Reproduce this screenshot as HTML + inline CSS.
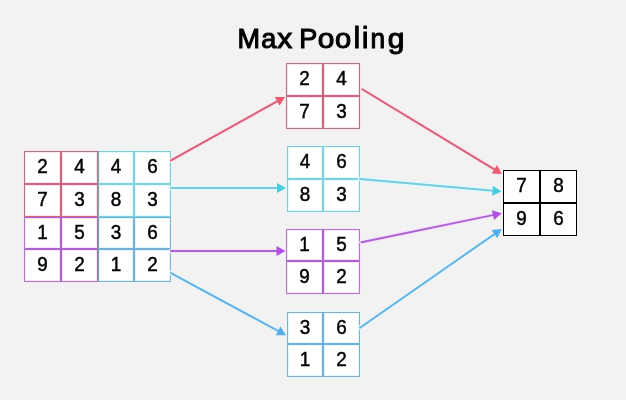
<!DOCTYPE html>
<html><head><meta charset="utf-8"><style>
html,body{margin:0;padding:0;background:#f2f2f2;width:626px;height:400px;overflow:hidden}
svg{display:block;will-change:transform}
.d{font-family:"Liberation Sans", sans-serif;font-size:21px;fill:#000;stroke:#000;stroke-width:0.5px}
.t{font-family:"Liberation Sans", sans-serif;font-size:28.5px;fill:#000;stroke:#000;stroke-width:1.1px}
</style></head><body>
<svg width="626" height="400" viewBox="0 0 626 400">
<rect width="626" height="400" fill="#f2f2f2"/>
<text transform="translate(248.90,48.1) scale(0.950,1.0) translate(-12.00,0)" class="t">M</text>
<text transform="translate(269.20,48.1) scale(0.950,1.0) translate(-8.50,0)" class="t">a</text>
<text transform="translate(284.60,48.1) scale(1.050,1.0) translate(-7.00,0)" class="t">x</text>
<text transform="translate(308.75,48.1) scale(0.950,1.0) translate(-10.00,0)" class="t">P</text>
<text transform="translate(326.20,48.1) scale(1.050,1.0) translate(-8.00,0)" class="t">o</text>
<text transform="translate(343.15,48.1) scale(1.021,1.0) translate(-8.00,0)" class="t">o</text>
<text transform="translate(356.85,48.1) scale(1.000,1.06) translate(-3.00,0)" class="t">l</text>
<text transform="translate(365.10,48.1) scale(1.000,1.06) translate(-3.00,0)" class="t">i</text>
<text transform="translate(377.85,48.1) scale(0.921,1.0) translate(-8.00,0)" class="t">n</text>
<text transform="translate(396.05,48.1) scale(1.050,1.0) translate(-8.00,0)" class="t">g</text>
<g shape-rendering="crispEdges">
<rect x="24" y="151" width="147" height="131" fill="#fff"/>
<rect x="24" y="150" width="37" height="1" fill="#ffe4ea"/>
<rect x="25" y="152" width="35" height="1" fill="#ffe4ea"/>
<rect x="23" y="151" width="1" height="33" fill="#ffe4ea"/>
<rect x="25" y="152" width="1" height="31" fill="#ffe4ea"/>
<rect x="59" y="152" width="1" height="31" fill="#ffe4ea"/>
<rect x="25" y="182" width="35" height="1" fill="#ffe4ea"/>
<rect x="23" y="184" width="1" height="33" fill="#ffe4ea"/>
<rect x="25" y="185" width="1" height="31" fill="#ffe4ea"/>
<rect x="59" y="185" width="1" height="31" fill="#ffe4ea"/>
<rect x="25" y="185" width="35" height="1" fill="#ffe4ea"/>
<rect x="25" y="215" width="35" height="1" fill="#ffe4ea"/>
<rect x="23" y="217" width="1" height="32" fill="#fbe2ff"/>
<rect x="25" y="218" width="1" height="30" fill="#fbe2ff"/>
<rect x="59" y="218" width="1" height="30" fill="#fbe2ff"/>
<rect x="25" y="218" width="35" height="1" fill="#fbe2ff"/>
<rect x="25" y="247" width="35" height="1" fill="#fbe2ff"/>
<rect x="24" y="282" width="37" height="1" fill="#fbe2ff"/>
<rect x="25" y="280" width="35" height="1" fill="#fbe2ff"/>
<rect x="23" y="249" width="1" height="33" fill="#fbe2ff"/>
<rect x="25" y="250" width="1" height="31" fill="#fbe2ff"/>
<rect x="59" y="250" width="1" height="31" fill="#fbe2ff"/>
<rect x="25" y="250" width="35" height="1" fill="#fbe2ff"/>
<rect x="61" y="150" width="37" height="1" fill="#ffe4ea"/>
<rect x="62" y="152" width="35" height="1" fill="#ffe4ea"/>
<rect x="62" y="152" width="1" height="31" fill="#ffe4ea"/>
<rect x="96" y="152" width="1" height="31" fill="#ffe4ea"/>
<rect x="62" y="182" width="35" height="1" fill="#ffe4ea"/>
<rect x="62" y="185" width="1" height="31" fill="#ffe4ea"/>
<rect x="96" y="185" width="1" height="31" fill="#ffe4ea"/>
<rect x="62" y="185" width="35" height="1" fill="#ffe4ea"/>
<rect x="62" y="215" width="35" height="1" fill="#ffe4ea"/>
<rect x="62" y="218" width="1" height="30" fill="#fbe2ff"/>
<rect x="96" y="218" width="1" height="30" fill="#fbe2ff"/>
<rect x="62" y="218" width="35" height="1" fill="#fbe2ff"/>
<rect x="62" y="247" width="35" height="1" fill="#fbe2ff"/>
<rect x="61" y="282" width="37" height="1" fill="#fbe2ff"/>
<rect x="62" y="280" width="35" height="1" fill="#fbe2ff"/>
<rect x="62" y="250" width="1" height="31" fill="#fbe2ff"/>
<rect x="96" y="250" width="1" height="31" fill="#fbe2ff"/>
<rect x="62" y="250" width="35" height="1" fill="#fbe2ff"/>
<rect x="98" y="150" width="36" height="1" fill="#dcfcff"/>
<rect x="99" y="152" width="34" height="1" fill="#dcfcff"/>
<rect x="99" y="152" width="1" height="31" fill="#dcfcff"/>
<rect x="132" y="152" width="1" height="31" fill="#dcfcff"/>
<rect x="99" y="182" width="34" height="1" fill="#dcfcff"/>
<rect x="99" y="185" width="1" height="31" fill="#dcfcff"/>
<rect x="132" y="185" width="1" height="31" fill="#dcfcff"/>
<rect x="99" y="185" width="34" height="1" fill="#dcfcff"/>
<rect x="99" y="215" width="34" height="1" fill="#dcfcff"/>
<rect x="99" y="218" width="1" height="30" fill="#e2f8ff"/>
<rect x="132" y="218" width="1" height="30" fill="#e2f8ff"/>
<rect x="99" y="218" width="34" height="1" fill="#e2f8ff"/>
<rect x="99" y="247" width="34" height="1" fill="#e2f8ff"/>
<rect x="98" y="282" width="36" height="1" fill="#e2f8ff"/>
<rect x="99" y="280" width="34" height="1" fill="#e2f8ff"/>
<rect x="99" y="250" width="1" height="31" fill="#e2f8ff"/>
<rect x="132" y="250" width="1" height="31" fill="#e2f8ff"/>
<rect x="99" y="250" width="34" height="1" fill="#e2f8ff"/>
<rect x="134" y="150" width="37" height="1" fill="#dcfcff"/>
<rect x="135" y="152" width="35" height="1" fill="#dcfcff"/>
<rect x="171" y="151" width="1" height="33" fill="#dcfcff"/>
<rect x="169" y="152" width="1" height="31" fill="#dcfcff"/>
<rect x="135" y="152" width="1" height="31" fill="#dcfcff"/>
<rect x="135" y="182" width="35" height="1" fill="#dcfcff"/>
<rect x="171" y="184" width="1" height="33" fill="#dcfcff"/>
<rect x="169" y="185" width="1" height="31" fill="#dcfcff"/>
<rect x="135" y="185" width="1" height="31" fill="#dcfcff"/>
<rect x="135" y="185" width="35" height="1" fill="#dcfcff"/>
<rect x="135" y="215" width="35" height="1" fill="#dcfcff"/>
<rect x="171" y="217" width="1" height="32" fill="#e2f8ff"/>
<rect x="169" y="218" width="1" height="30" fill="#e2f8ff"/>
<rect x="135" y="218" width="1" height="30" fill="#e2f8ff"/>
<rect x="135" y="218" width="35" height="1" fill="#e2f8ff"/>
<rect x="135" y="247" width="35" height="1" fill="#e2f8ff"/>
<rect x="134" y="282" width="37" height="1" fill="#e2f8ff"/>
<rect x="135" y="280" width="35" height="1" fill="#e2f8ff"/>
<rect x="171" y="249" width="1" height="33" fill="#e2f8ff"/>
<rect x="169" y="250" width="1" height="31" fill="#e2f8ff"/>
<rect x="135" y="250" width="1" height="31" fill="#e2f8ff"/>
<rect x="135" y="250" width="35" height="1" fill="#e2f8ff"/>
<rect x="24" y="151" width="37" height="1" fill="#a87888"/>
<rect x="24" y="183" width="37" height="1" fill="#cf6580"/>
<rect x="24" y="151" width="1" height="33" fill="#a87888"/>
<rect x="60" y="151" width="1" height="33" fill="#cf6580"/>
<rect x="24" y="184" width="37" height="1" fill="#cf6580"/>
<rect x="24" y="216" width="37" height="1" fill="#cf6580"/>
<rect x="24" y="184" width="1" height="33" fill="#a87888"/>
<rect x="60" y="184" width="1" height="33" fill="#cf6580"/>
<rect x="24" y="217" width="37" height="1" fill="#aa62d0"/>
<rect x="24" y="248" width="37" height="1" fill="#aa62d0"/>
<rect x="24" y="217" width="1" height="32" fill="#a482b8"/>
<rect x="60" y="217" width="1" height="32" fill="#aa62d0"/>
<rect x="24" y="249" width="37" height="1" fill="#aa62d0"/>
<rect x="24" y="281" width="37" height="1" fill="#a482b8"/>
<rect x="24" y="249" width="1" height="33" fill="#a482b8"/>
<rect x="60" y="249" width="1" height="33" fill="#aa62d0"/>
<rect x="61" y="151" width="37" height="1" fill="#a87888"/>
<rect x="61" y="183" width="37" height="1" fill="#cf6580"/>
<rect x="61" y="151" width="1" height="33" fill="#cf6580"/>
<rect x="97" y="151" width="1" height="33" fill="#9a8490"/>
<rect x="61" y="184" width="37" height="1" fill="#cf6580"/>
<rect x="61" y="216" width="37" height="1" fill="#cf6580"/>
<rect x="61" y="184" width="1" height="33" fill="#cf6580"/>
<rect x="97" y="184" width="1" height="33" fill="#9a8490"/>
<rect x="61" y="217" width="37" height="1" fill="#aa62d0"/>
<rect x="61" y="248" width="37" height="1" fill="#aa62d0"/>
<rect x="61" y="217" width="1" height="32" fill="#aa62d0"/>
<rect x="97" y="217" width="1" height="32" fill="#8c849c"/>
<rect x="61" y="249" width="37" height="1" fill="#aa62d0"/>
<rect x="61" y="281" width="37" height="1" fill="#a482b8"/>
<rect x="61" y="249" width="1" height="33" fill="#aa62d0"/>
<rect x="97" y="249" width="1" height="33" fill="#8c849c"/>
<rect x="98" y="151" width="36" height="1" fill="#8cc6cc"/>
<rect x="98" y="183" width="36" height="1" fill="#82cfde"/>
<rect x="98" y="151" width="1" height="33" fill="#88a4ac"/>
<rect x="133" y="151" width="1" height="33" fill="#82cfde"/>
<rect x="98" y="184" width="36" height="1" fill="#82cfde"/>
<rect x="98" y="216" width="36" height="1" fill="#82cfde"/>
<rect x="98" y="184" width="1" height="33" fill="#88a4ac"/>
<rect x="133" y="184" width="1" height="33" fill="#82cfde"/>
<rect x="98" y="217" width="36" height="1" fill="#72b0da"/>
<rect x="98" y="248" width="36" height="1" fill="#72b0da"/>
<rect x="98" y="217" width="1" height="32" fill="#8098a8"/>
<rect x="133" y="217" width="1" height="32" fill="#72b0da"/>
<rect x="98" y="249" width="36" height="1" fill="#72b0da"/>
<rect x="98" y="281" width="36" height="1" fill="#8aaec0"/>
<rect x="98" y="249" width="1" height="33" fill="#8098a8"/>
<rect x="133" y="249" width="1" height="33" fill="#72b0da"/>
<rect x="134" y="151" width="37" height="1" fill="#8cc6cc"/>
<rect x="134" y="183" width="37" height="1" fill="#82cfde"/>
<rect x="134" y="151" width="1" height="33" fill="#82cfde"/>
<rect x="170" y="151" width="1" height="33" fill="#8cc6cc"/>
<rect x="134" y="184" width="37" height="1" fill="#82cfde"/>
<rect x="134" y="216" width="37" height="1" fill="#82cfde"/>
<rect x="134" y="184" width="1" height="33" fill="#82cfde"/>
<rect x="170" y="184" width="1" height="33" fill="#8cc6cc"/>
<rect x="134" y="217" width="37" height="1" fill="#72b0da"/>
<rect x="134" y="248" width="37" height="1" fill="#72b0da"/>
<rect x="134" y="217" width="1" height="32" fill="#72b0da"/>
<rect x="170" y="217" width="1" height="32" fill="#8aaec0"/>
<rect x="134" y="249" width="37" height="1" fill="#72b0da"/>
<rect x="134" y="281" width="37" height="1" fill="#8aaec0"/>
<rect x="134" y="249" width="1" height="33" fill="#72b0da"/>
<rect x="170" y="249" width="1" height="33" fill="#8aaec0"/>
<text transform="translate(42.50,173.30) scale(0.9,1)" text-anchor="middle" class="d">2</text>
<text transform="translate(42.50,206.30) scale(0.9,1)" text-anchor="middle" class="d">7</text>
<text transform="translate(42.50,239.30) scale(0.9,1)" text-anchor="middle" class="d">1</text>
<text transform="translate(42.50,271.30) scale(0.9,1)" text-anchor="middle" class="d">9</text>
<text transform="translate(79.50,173.30) scale(0.9,1)" text-anchor="middle" class="d">4</text>
<text transform="translate(79.50,206.30) scale(0.9,1)" text-anchor="middle" class="d">3</text>
<text transform="translate(79.50,239.30) scale(0.9,1)" text-anchor="middle" class="d">5</text>
<text transform="translate(79.50,271.30) scale(0.9,1)" text-anchor="middle" class="d">2</text>
<text transform="translate(116.00,173.30) scale(0.9,1)" text-anchor="middle" class="d">4</text>
<text transform="translate(116.00,206.30) scale(0.9,1)" text-anchor="middle" class="d">8</text>
<text transform="translate(116.00,239.30) scale(0.9,1)" text-anchor="middle" class="d">3</text>
<text transform="translate(116.00,271.30) scale(0.9,1)" text-anchor="middle" class="d">1</text>
<text transform="translate(152.50,173.30) scale(0.9,1)" text-anchor="middle" class="d">6</text>
<text transform="translate(152.50,206.30) scale(0.9,1)" text-anchor="middle" class="d">3</text>
<text transform="translate(152.50,239.30) scale(0.9,1)" text-anchor="middle" class="d">6</text>
<text transform="translate(152.50,271.30) scale(0.9,1)" text-anchor="middle" class="d">2</text>
<rect x="286" y="63" width="74" height="66" fill="#fff"/>
<rect x="286" y="62" width="37" height="1" fill="#ffe4ea"/>
<rect x="287" y="64" width="35" height="1" fill="#ffe4ea"/>
<rect x="285" y="63" width="1" height="33" fill="#ffe4ea"/>
<rect x="287" y="64" width="1" height="31" fill="#ffe4ea"/>
<rect x="321" y="64" width="1" height="31" fill="#ffe4ea"/>
<rect x="287" y="94" width="35" height="1" fill="#ffe4ea"/>
<rect x="286" y="129" width="37" height="1" fill="#ffe4ea"/>
<rect x="287" y="127" width="35" height="1" fill="#ffe4ea"/>
<rect x="285" y="96" width="1" height="33" fill="#ffe4ea"/>
<rect x="287" y="97" width="1" height="31" fill="#ffe4ea"/>
<rect x="321" y="97" width="1" height="31" fill="#ffe4ea"/>
<rect x="287" y="97" width="35" height="1" fill="#ffe4ea"/>
<rect x="323" y="62" width="37" height="1" fill="#ffe4ea"/>
<rect x="324" y="64" width="35" height="1" fill="#ffe4ea"/>
<rect x="360" y="63" width="1" height="33" fill="#ffe4ea"/>
<rect x="358" y="64" width="1" height="31" fill="#ffe4ea"/>
<rect x="324" y="64" width="1" height="31" fill="#ffe4ea"/>
<rect x="324" y="94" width="35" height="1" fill="#ffe4ea"/>
<rect x="323" y="129" width="37" height="1" fill="#ffe4ea"/>
<rect x="324" y="127" width="35" height="1" fill="#ffe4ea"/>
<rect x="360" y="96" width="1" height="33" fill="#ffe4ea"/>
<rect x="358" y="97" width="1" height="31" fill="#ffe4ea"/>
<rect x="324" y="97" width="1" height="31" fill="#ffe4ea"/>
<rect x="324" y="97" width="35" height="1" fill="#ffe4ea"/>
<rect x="286" y="63" width="37" height="1" fill="#a87888"/>
<rect x="286" y="95" width="37" height="1" fill="#cf6580"/>
<rect x="286" y="63" width="1" height="33" fill="#a87888"/>
<rect x="322" y="63" width="1" height="33" fill="#cf6580"/>
<rect x="286" y="96" width="37" height="1" fill="#cf6580"/>
<rect x="286" y="128" width="37" height="1" fill="#a87888"/>
<rect x="286" y="96" width="1" height="33" fill="#a87888"/>
<rect x="322" y="96" width="1" height="33" fill="#cf6580"/>
<rect x="323" y="63" width="37" height="1" fill="#a87888"/>
<rect x="323" y="95" width="37" height="1" fill="#cf6580"/>
<rect x="323" y="63" width="1" height="33" fill="#cf6580"/>
<rect x="359" y="63" width="1" height="33" fill="#a87888"/>
<rect x="323" y="96" width="37" height="1" fill="#cf6580"/>
<rect x="323" y="128" width="37" height="1" fill="#a87888"/>
<rect x="323" y="96" width="1" height="33" fill="#cf6580"/>
<rect x="359" y="96" width="1" height="33" fill="#a87888"/>
<text transform="translate(304.50,85.30) scale(0.9,1)" text-anchor="middle" class="d">2</text>
<text transform="translate(304.50,118.30) scale(0.9,1)" text-anchor="middle" class="d">7</text>
<text transform="translate(341.50,85.30) scale(0.9,1)" text-anchor="middle" class="d">4</text>
<text transform="translate(341.50,118.30) scale(0.9,1)" text-anchor="middle" class="d">3</text>
<rect x="287" y="146" width="73" height="66" fill="#fff"/>
<rect x="287" y="145" width="36" height="1" fill="#dcfcff"/>
<rect x="288" y="147" width="34" height="1" fill="#dcfcff"/>
<rect x="286" y="146" width="1" height="33" fill="#dcfcff"/>
<rect x="288" y="147" width="1" height="31" fill="#dcfcff"/>
<rect x="321" y="147" width="1" height="31" fill="#dcfcff"/>
<rect x="288" y="177" width="34" height="1" fill="#dcfcff"/>
<rect x="287" y="212" width="36" height="1" fill="#dcfcff"/>
<rect x="288" y="210" width="34" height="1" fill="#dcfcff"/>
<rect x="286" y="179" width="1" height="33" fill="#dcfcff"/>
<rect x="288" y="180" width="1" height="31" fill="#dcfcff"/>
<rect x="321" y="180" width="1" height="31" fill="#dcfcff"/>
<rect x="288" y="180" width="34" height="1" fill="#dcfcff"/>
<rect x="323" y="145" width="37" height="1" fill="#dcfcff"/>
<rect x="324" y="147" width="35" height="1" fill="#dcfcff"/>
<rect x="360" y="146" width="1" height="33" fill="#dcfcff"/>
<rect x="358" y="147" width="1" height="31" fill="#dcfcff"/>
<rect x="324" y="147" width="1" height="31" fill="#dcfcff"/>
<rect x="324" y="177" width="35" height="1" fill="#dcfcff"/>
<rect x="323" y="212" width="37" height="1" fill="#dcfcff"/>
<rect x="324" y="210" width="35" height="1" fill="#dcfcff"/>
<rect x="360" y="179" width="1" height="33" fill="#dcfcff"/>
<rect x="358" y="180" width="1" height="31" fill="#dcfcff"/>
<rect x="324" y="180" width="1" height="31" fill="#dcfcff"/>
<rect x="324" y="180" width="35" height="1" fill="#dcfcff"/>
<rect x="287" y="146" width="36" height="1" fill="#8cc6cc"/>
<rect x="287" y="178" width="36" height="1" fill="#82cfde"/>
<rect x="287" y="146" width="1" height="33" fill="#8cc6cc"/>
<rect x="322" y="146" width="1" height="33" fill="#82cfde"/>
<rect x="287" y="179" width="36" height="1" fill="#82cfde"/>
<rect x="287" y="211" width="36" height="1" fill="#8cc6cc"/>
<rect x="287" y="179" width="1" height="33" fill="#8cc6cc"/>
<rect x="322" y="179" width="1" height="33" fill="#82cfde"/>
<rect x="323" y="146" width="37" height="1" fill="#8cc6cc"/>
<rect x="323" y="178" width="37" height="1" fill="#82cfde"/>
<rect x="323" y="146" width="1" height="33" fill="#82cfde"/>
<rect x="359" y="146" width="1" height="33" fill="#8cc6cc"/>
<rect x="323" y="179" width="37" height="1" fill="#82cfde"/>
<rect x="323" y="211" width="37" height="1" fill="#8cc6cc"/>
<rect x="323" y="179" width="1" height="33" fill="#82cfde"/>
<rect x="359" y="179" width="1" height="33" fill="#8cc6cc"/>
<text transform="translate(305.00,168.30) scale(0.9,1)" text-anchor="middle" class="d">4</text>
<text transform="translate(305.00,201.30) scale(0.9,1)" text-anchor="middle" class="d">8</text>
<text transform="translate(341.50,168.30) scale(0.9,1)" text-anchor="middle" class="d">6</text>
<text transform="translate(341.50,201.30) scale(0.9,1)" text-anchor="middle" class="d">3</text>
<rect x="286" y="229" width="74" height="65" fill="#fff"/>
<rect x="286" y="228" width="37" height="1" fill="#fbe2ff"/>
<rect x="287" y="230" width="35" height="1" fill="#fbe2ff"/>
<rect x="285" y="229" width="1" height="32" fill="#fbe2ff"/>
<rect x="287" y="230" width="1" height="30" fill="#fbe2ff"/>
<rect x="321" y="230" width="1" height="30" fill="#fbe2ff"/>
<rect x="287" y="259" width="35" height="1" fill="#fbe2ff"/>
<rect x="286" y="294" width="37" height="1" fill="#fbe2ff"/>
<rect x="287" y="292" width="35" height="1" fill="#fbe2ff"/>
<rect x="285" y="261" width="1" height="33" fill="#fbe2ff"/>
<rect x="287" y="262" width="1" height="31" fill="#fbe2ff"/>
<rect x="321" y="262" width="1" height="31" fill="#fbe2ff"/>
<rect x="287" y="262" width="35" height="1" fill="#fbe2ff"/>
<rect x="323" y="228" width="37" height="1" fill="#fbe2ff"/>
<rect x="324" y="230" width="35" height="1" fill="#fbe2ff"/>
<rect x="360" y="229" width="1" height="32" fill="#fbe2ff"/>
<rect x="358" y="230" width="1" height="30" fill="#fbe2ff"/>
<rect x="324" y="230" width="1" height="30" fill="#fbe2ff"/>
<rect x="324" y="259" width="35" height="1" fill="#fbe2ff"/>
<rect x="323" y="294" width="37" height="1" fill="#fbe2ff"/>
<rect x="324" y="292" width="35" height="1" fill="#fbe2ff"/>
<rect x="360" y="261" width="1" height="33" fill="#fbe2ff"/>
<rect x="358" y="262" width="1" height="31" fill="#fbe2ff"/>
<rect x="324" y="262" width="1" height="31" fill="#fbe2ff"/>
<rect x="324" y="262" width="35" height="1" fill="#fbe2ff"/>
<rect x="286" y="229" width="37" height="1" fill="#a482b8"/>
<rect x="286" y="260" width="37" height="1" fill="#aa62d0"/>
<rect x="286" y="229" width="1" height="32" fill="#a482b8"/>
<rect x="322" y="229" width="1" height="32" fill="#aa62d0"/>
<rect x="286" y="261" width="37" height="1" fill="#aa62d0"/>
<rect x="286" y="293" width="37" height="1" fill="#a482b8"/>
<rect x="286" y="261" width="1" height="33" fill="#a482b8"/>
<rect x="322" y="261" width="1" height="33" fill="#aa62d0"/>
<rect x="323" y="229" width="37" height="1" fill="#a482b8"/>
<rect x="323" y="260" width="37" height="1" fill="#aa62d0"/>
<rect x="323" y="229" width="1" height="32" fill="#aa62d0"/>
<rect x="359" y="229" width="1" height="32" fill="#a482b8"/>
<rect x="323" y="261" width="37" height="1" fill="#aa62d0"/>
<rect x="323" y="293" width="37" height="1" fill="#a482b8"/>
<rect x="323" y="261" width="1" height="33" fill="#aa62d0"/>
<rect x="359" y="261" width="1" height="33" fill="#a482b8"/>
<text transform="translate(304.50,251.30) scale(0.9,1)" text-anchor="middle" class="d">1</text>
<text transform="translate(304.50,283.30) scale(0.9,1)" text-anchor="middle" class="d">9</text>
<text transform="translate(341.50,251.30) scale(0.9,1)" text-anchor="middle" class="d">5</text>
<text transform="translate(341.50,283.30) scale(0.9,1)" text-anchor="middle" class="d">2</text>
<rect x="287" y="312" width="73" height="65" fill="#fff"/>
<rect x="287" y="311" width="36" height="1" fill="#e2f8ff"/>
<rect x="288" y="313" width="34" height="1" fill="#e2f8ff"/>
<rect x="286" y="312" width="1" height="32" fill="#e2f8ff"/>
<rect x="288" y="313" width="1" height="30" fill="#e2f8ff"/>
<rect x="321" y="313" width="1" height="30" fill="#e2f8ff"/>
<rect x="288" y="342" width="34" height="1" fill="#e2f8ff"/>
<rect x="287" y="377" width="36" height="1" fill="#e2f8ff"/>
<rect x="288" y="375" width="34" height="1" fill="#e2f8ff"/>
<rect x="286" y="344" width="1" height="33" fill="#e2f8ff"/>
<rect x="288" y="345" width="1" height="31" fill="#e2f8ff"/>
<rect x="321" y="345" width="1" height="31" fill="#e2f8ff"/>
<rect x="288" y="345" width="34" height="1" fill="#e2f8ff"/>
<rect x="323" y="311" width="37" height="1" fill="#e2f8ff"/>
<rect x="324" y="313" width="35" height="1" fill="#e2f8ff"/>
<rect x="360" y="312" width="1" height="32" fill="#e2f8ff"/>
<rect x="358" y="313" width="1" height="30" fill="#e2f8ff"/>
<rect x="324" y="313" width="1" height="30" fill="#e2f8ff"/>
<rect x="324" y="342" width="35" height="1" fill="#e2f8ff"/>
<rect x="323" y="377" width="37" height="1" fill="#e2f8ff"/>
<rect x="324" y="375" width="35" height="1" fill="#e2f8ff"/>
<rect x="360" y="344" width="1" height="33" fill="#e2f8ff"/>
<rect x="358" y="345" width="1" height="31" fill="#e2f8ff"/>
<rect x="324" y="345" width="1" height="31" fill="#e2f8ff"/>
<rect x="324" y="345" width="35" height="1" fill="#e2f8ff"/>
<rect x="287" y="312" width="36" height="1" fill="#8aaec0"/>
<rect x="287" y="343" width="36" height="1" fill="#72b0da"/>
<rect x="287" y="312" width="1" height="32" fill="#8aaec0"/>
<rect x="322" y="312" width="1" height="32" fill="#72b0da"/>
<rect x="287" y="344" width="36" height="1" fill="#72b0da"/>
<rect x="287" y="376" width="36" height="1" fill="#8aaec0"/>
<rect x="287" y="344" width="1" height="33" fill="#8aaec0"/>
<rect x="322" y="344" width="1" height="33" fill="#72b0da"/>
<rect x="323" y="312" width="37" height="1" fill="#8aaec0"/>
<rect x="323" y="343" width="37" height="1" fill="#72b0da"/>
<rect x="323" y="312" width="1" height="32" fill="#72b0da"/>
<rect x="359" y="312" width="1" height="32" fill="#8aaec0"/>
<rect x="323" y="344" width="37" height="1" fill="#72b0da"/>
<rect x="323" y="376" width="37" height="1" fill="#8aaec0"/>
<rect x="323" y="344" width="1" height="33" fill="#72b0da"/>
<rect x="359" y="344" width="1" height="33" fill="#8aaec0"/>
<text transform="translate(305.00,334.30) scale(0.9,1)" text-anchor="middle" class="d">3</text>
<text transform="translate(305.00,366.30) scale(0.9,1)" text-anchor="middle" class="d">1</text>
<text transform="translate(341.50,334.30) scale(0.9,1)" text-anchor="middle" class="d">6</text>
<text transform="translate(341.50,366.30) scale(0.9,1)" text-anchor="middle" class="d">2</text>
<rect x="503" y="170" width="74" height="66" fill="#fff"/>
<rect x="503" y="170" width="37" height="1" fill="#000"/>
<rect x="503" y="202" width="37" height="1" fill="#000"/>
<rect x="503" y="170" width="1" height="33" fill="#000"/>
<rect x="539" y="170" width="1" height="33" fill="#000"/>
<rect x="503" y="203" width="37" height="1" fill="#000"/>
<rect x="503" y="235" width="37" height="1" fill="#000"/>
<rect x="503" y="203" width="1" height="33" fill="#000"/>
<rect x="539" y="203" width="1" height="33" fill="#000"/>
<rect x="540" y="170" width="37" height="1" fill="#000"/>
<rect x="540" y="202" width="37" height="1" fill="#000"/>
<rect x="540" y="170" width="1" height="33" fill="#000"/>
<rect x="576" y="170" width="1" height="33" fill="#000"/>
<rect x="540" y="203" width="37" height="1" fill="#000"/>
<rect x="540" y="235" width="37" height="1" fill="#000"/>
<rect x="540" y="203" width="1" height="33" fill="#000"/>
<rect x="576" y="203" width="1" height="33" fill="#000"/>
<text transform="translate(521.50,192.30) scale(0.9,1)" text-anchor="middle" class="d">7</text>
<text transform="translate(521.50,225.30) scale(0.9,1)" text-anchor="middle" class="d">9</text>
<text transform="translate(558.50,192.30) scale(0.9,1)" text-anchor="middle" class="d">8</text>
<text transform="translate(558.50,225.30) scale(0.9,1)" text-anchor="middle" class="d">6</text>
</g>
<g>
<line x1="171.00" y1="160.30" x2="277.13" y2="101.27" stroke="#ffe4ea" stroke-width="4.5" stroke-linecap="round"/>
<line x1="171.00" y1="160.30" x2="278.01" y2="100.79" stroke="#d4607c" stroke-width="2" stroke-linecap="round"/>
<polygon points="285.00,96.90 279.56,105.64 274.70,96.90" fill="#ee5a72"/>
<line x1="171.00" y1="188.00" x2="277.00" y2="188.00" stroke="#dcfcff" stroke-width="4.5" stroke-linecap="round"/>
<line x1="171.00" y1="188.00" x2="278.00" y2="188.00" stroke="#78cadc" stroke-width="2" stroke-linecap="round"/>
<polygon points="286.00,188.00 277.00,193.00 277.00,183.00" fill="#4ccae2"/>
<line x1="171.00" y1="251.00" x2="276.50" y2="251.00" stroke="#fbe2ff" stroke-width="4.5" stroke-linecap="round"/>
<line x1="171.00" y1="251.00" x2="277.50" y2="251.00" stroke="#a864d0" stroke-width="2" stroke-linecap="round"/>
<polygon points="285.50,251.00 276.50,256.00 276.50,246.00" fill="#b24fe4"/>
<line x1="171.00" y1="273.10" x2="278.08" y2="330.92" stroke="#e2f8ff" stroke-width="4.5" stroke-linecap="round"/>
<line x1="171.00" y1="273.10" x2="278.96" y2="331.40" stroke="#68b0e0" stroke-width="2" stroke-linecap="round"/>
<polygon points="286.00,335.20 275.71,335.32 280.46,326.52" fill="#52adea"/>
<line x1="362.25" y1="89.25" x2="494.30" y2="169.33" stroke="#ffe4ea" stroke-width="4.5" stroke-linecap="round"/>
<line x1="362.25" y1="89.25" x2="495.16" y2="169.85" stroke="#d4607c" stroke-width="2" stroke-linecap="round"/>
<polygon points="502.00,174.00 491.71,173.61 496.90,165.06" fill="#ee5a72"/>
<line x1="360.00" y1="179.00" x2="492.53" y2="190.71" stroke="#dcfcff" stroke-width="4.5" stroke-linecap="round"/>
<line x1="360.00" y1="179.00" x2="493.53" y2="190.80" stroke="#78cadc" stroke-width="2" stroke-linecap="round"/>
<polygon points="501.50,191.50 492.09,195.69 492.97,185.73" fill="#4ccae2"/>
<line x1="361.50" y1="242.25" x2="492.94" y2="215.07" stroke="#fbe2ff" stroke-width="4.5" stroke-linecap="round"/>
<line x1="361.50" y1="242.25" x2="493.92" y2="214.87" stroke="#a864d0" stroke-width="2" stroke-linecap="round"/>
<polygon points="501.75,213.25 493.95,219.97 491.92,210.18" fill="#b24fe4"/>
<line x1="360.00" y1="327.75" x2="494.37" y2="234.14" stroke="#e2f8ff" stroke-width="4.5" stroke-linecap="round"/>
<line x1="360.00" y1="327.75" x2="495.19" y2="233.57" stroke="#68b0e0" stroke-width="2" stroke-linecap="round"/>
<polygon points="501.75,229.00 497.22,238.25 491.51,230.04" fill="#52adea"/>
</g>
</svg></body></html>
